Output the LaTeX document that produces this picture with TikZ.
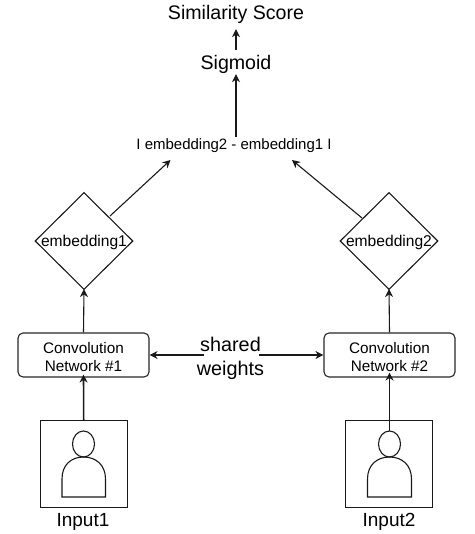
\documentclass[tikz,border=0pt]{standalone}
\usepackage{fontspec}
\setmainfont{Liberation Sans}
\usetikzlibrary{arrows.meta,shapes.geometric}
\newcommand{\convstrut}{\rule{0pt}{15pt}}
\tikzset{
  x=1pt,y=-1pt,
  conv/.style={draw=black!85,line width=1.1pt,rounded corners=5pt,minimum width=131pt,minimum height=44pt,inner sep=0pt,align=center,font=\fontsize{15.3}{18}\selectfont},
  inbox/.style={draw=black!90,line width=1.3pt,minimum width=87pt,minimum height=87pt,inner sep=0pt},
  emb/.style={draw=black!90,line width=1.1pt,diamond,minimum width=98pt,minimum height=97pt,inner sep=-6pt,text height=15pt,font=\fontsize{15.6}{18}\selectfont,aspect=1},
  lbl/.style={inner sep=0pt,align=center},
  big/.style={lbl,font=\fontsize{19.6}{24}\selectfont},
  arr/.style={-{Stealth[length=8pt,width=8pt]},draw=black!90,line width=1.1pt},
  thickarr/.style={arr,line width=1.6pt},
  person/.style={draw=black!90,line width=1.1pt}
}
\begin{document}
\begin{tikzpicture}
\useasboundingbox (0,0) rectangle (474,534);
\node[big,minimum height=34pt] (score) at (236,14) {Similarity Score};
\node[big,minimum height=24pt] (sig) at (236,64) {Sigmoid};
\node[lbl,font=\fontsize{15}{17}\selectfont,minimum height=14pt] (diff) at (234,146) {I embedding2 - embedding1 I};
\node[emb] (e1) at (84,241) {embedding1};
\node[emb] (e2) at (389,241) {embedding2};
\node[conv] (c1) at (83.5,355) {\convstrut Convolution\\Network \#1};
\node[conv] (c2) at (389.5,355) {\convstrut Convolution\\Network \#2};
\node[lbl,font=\fontsize{19.8}{24}\selectfont] (sw) at (230.5,358) {shared\\weights};
\node[inbox] (i1) at (83.7,464) {};
\node[inbox] (i2) at (389.3,464) {};
\node[lbl,font=\fontsize{19}{22}\selectfont] (l1) at (83,522) {Input1};
\node[lbl,font=\fontsize{19}{22}\selectfont] (l2) at (389,522) {Input2};
% persons
\draw[person] (83.5,444) ellipse (11pt and 13pt);
\draw[person] (389.5,444) ellipse (11pt and 13pt);
\coordinate (h2) at (389.5,431);
\draw[person] (62,497) -- (62,479) .. controls (62,465) and (71,457) .. (83.5,457) .. controls (96,457) and (105.5,465) .. (105.5,479) -- (105.5,497) -- cycle;
\draw[person] (367.5,497) -- (367.5,479) .. controls (367.5,465) and (377,457) .. (389.5,457) .. controls (402,457) and (411.5,465) .. (411.5,479) -- (411.5,497) -- cycle;
% connectors
\coordinate (t1) at (170.5,160);
\coordinate (t2) at (292,160);
\coordinate (s1) at (110,216);
\coordinate (s2) at (362,218);
\draw[thickarr] (i1.north) -- ([yshift=3pt]c1.south);
\draw[thickarr] (h2) -- ([yshift=5pt]c2.south);
\draw[arr] (c1.north) -- ([yshift=1pt]e1.south);
\draw[arr] (c2.north) -- ([yshift=1pt]e2.south);
\draw[arr] (s1) -- (t1);
\draw[arr] (s2) -- (t2);
\draw[arr] ([yshift=2pt]diff.north -| sig.south) -- ([yshift=2pt]sig.south);
\draw[arr] ([yshift=2pt]sig.north) -- ([yshift=2pt]score.south);
\coordinate (a1) at (204,355);
\coordinate (a2) at (259,355);
\draw[arr] (a1) -- (c1.east);
\draw[arr] (a2) -- (c2.west);
\end{tikzpicture}
\end{document}
